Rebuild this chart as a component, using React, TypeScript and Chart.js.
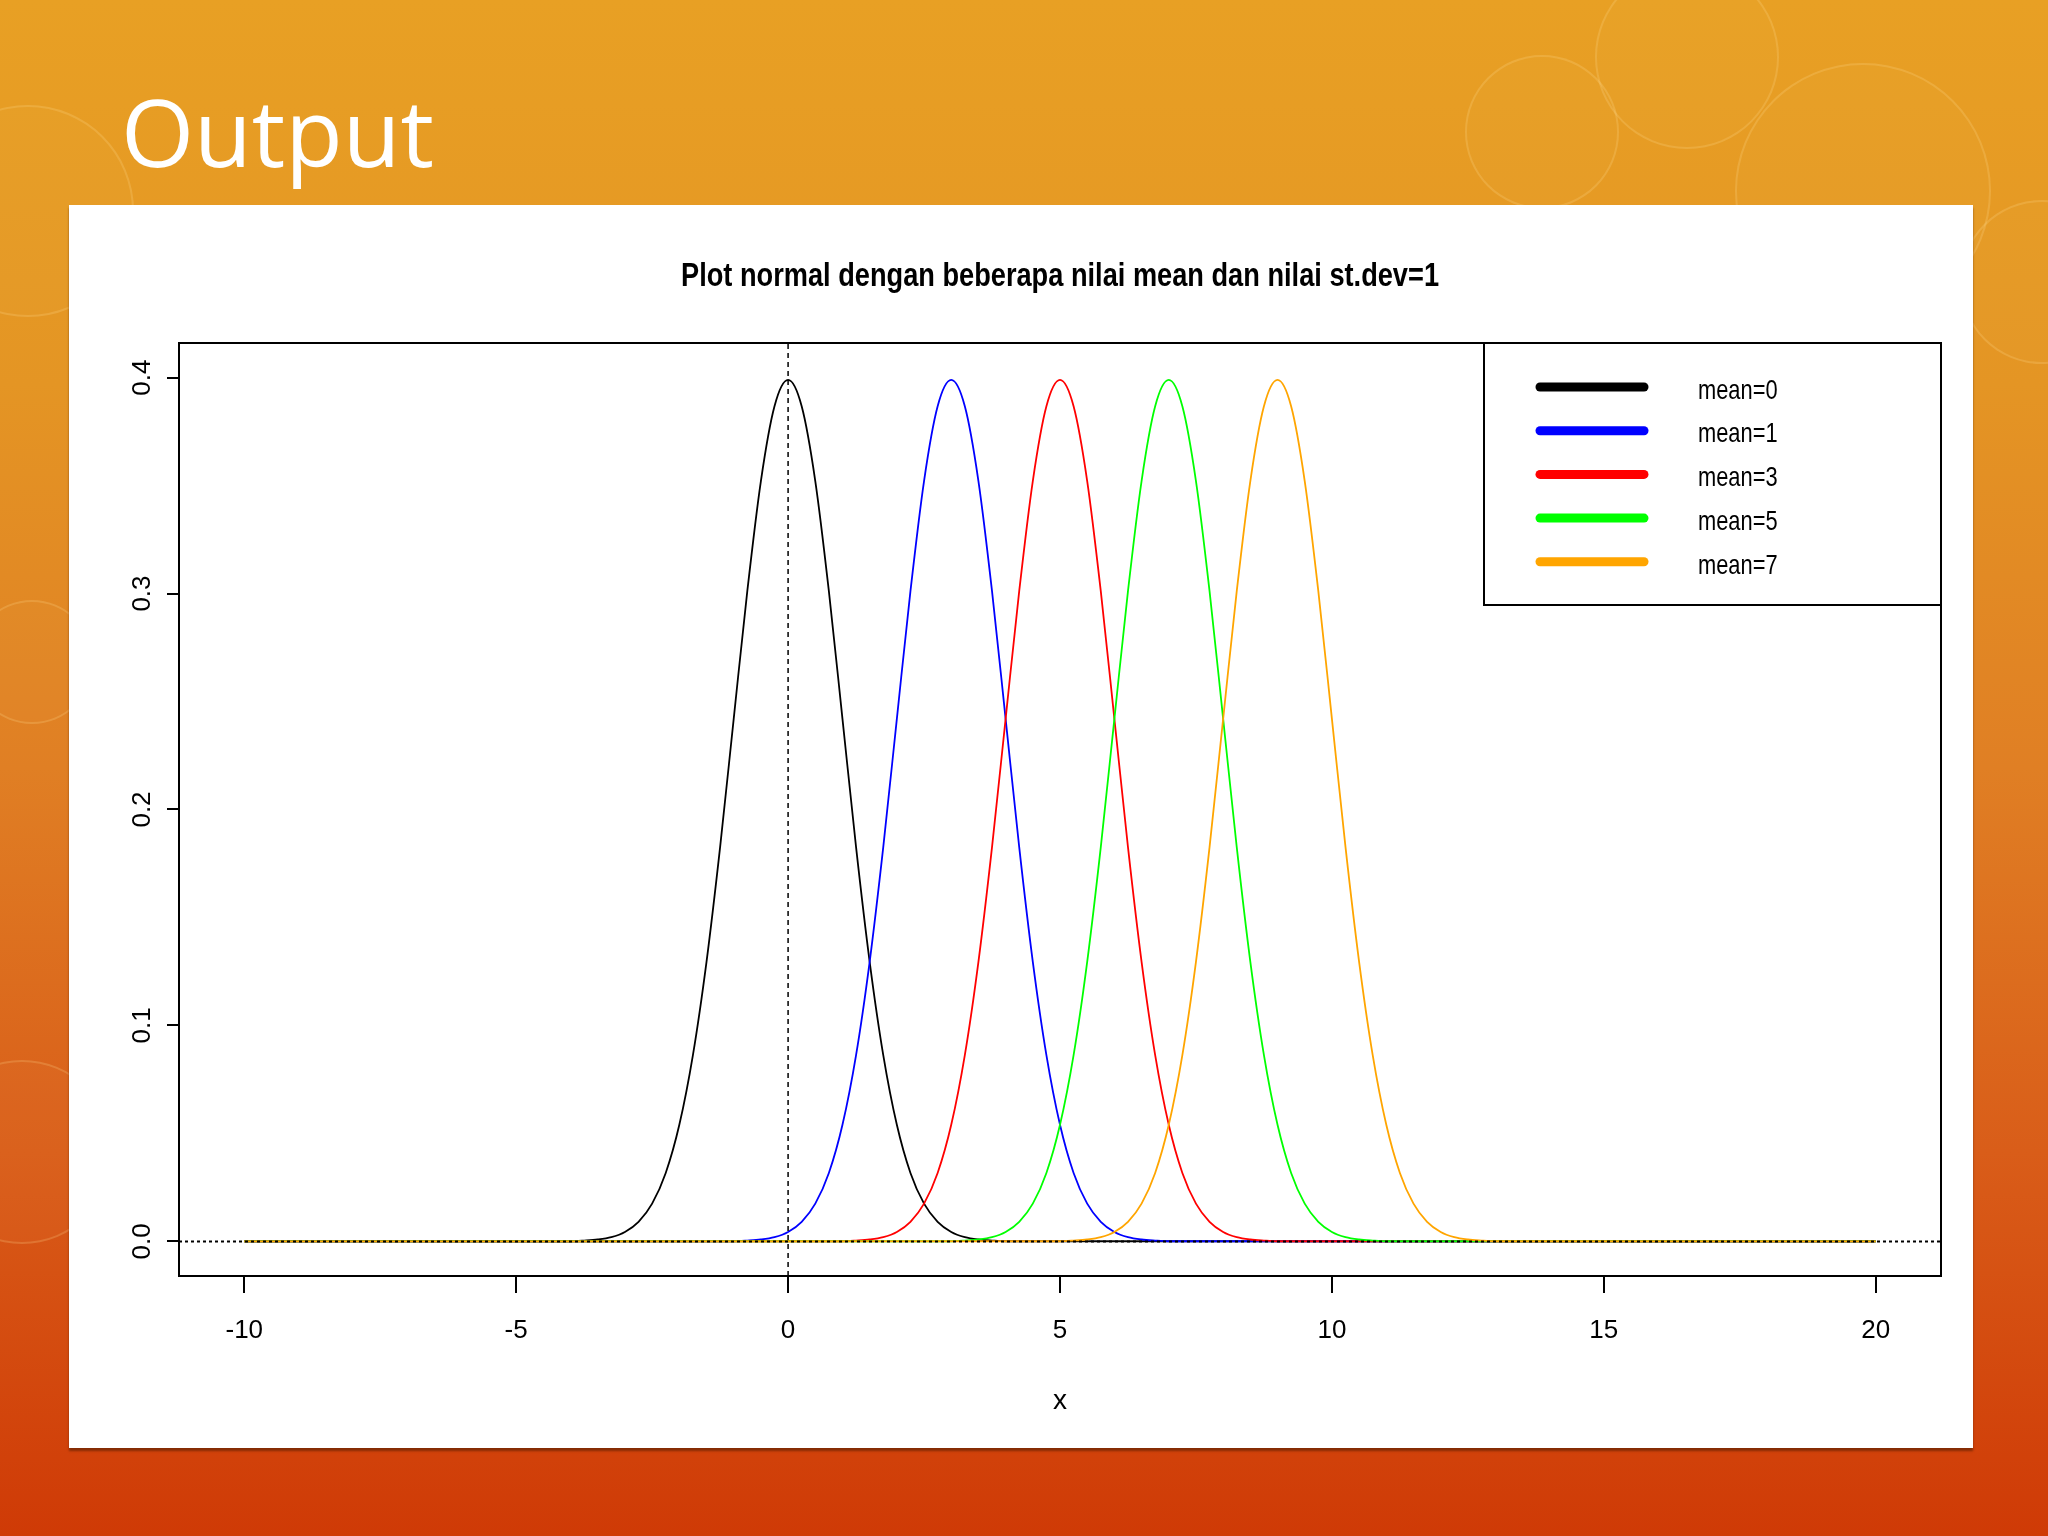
import React, { useEffect, useRef } from 'react'
import { Chart, registerables } from 'chart.js'

Chart.register(...registerables)

const ARIAL = "'Liberation Sans', Arial, sans-serif"

const chartTitle = 'Plot normal dengan beberapa nilai mean dan nilai st.dev=1'
const xAxisLabel = 'x'
const legendLabels = ['mean=0', 'mean=1', 'mean=3', 'mean=5', 'mean=7']
const seriesColors = ['#000000', '#0000FF', '#FF0000', '#00FF00', '#FFA500']
const xTicks = [-10, -5, 0, 5, 10, 15, 20]
const yTicks = [0, 0.1, 0.2, 0.3, 0.4]

// curves (peak ~0.399, st.dev 1), flat at 0 out to -10 and 20
const blackX = [-10, -4, -3.75, -3.5, -3.25, -3, -2.75, -2.5, -2.25, -2, -1.75, -1.5, -1.25, -1, -0.75, -0.5, -0.25, 0, 0.25, 0.5, 0.75, 1, 1.25, 1.5, 1.75, 2, 2.25, 2.5, 2.75, 3, 3.25, 3.5, 3.75, 4, 20]
const blackY = [0, 0.0001, 0.0004, 0.0009, 0.002, 0.0044, 0.0091, 0.0175, 0.0317, 0.054, 0.0863, 0.1295, 0.1826, 0.242, 0.3011, 0.3521, 0.3867, 0.3989, 0.3867, 0.3521, 0.3011, 0.242, 0.1826, 0.1295, 0.0863, 0.054, 0.0317, 0.0175, 0.0091, 0.0044, 0.002, 0.0009, 0.0004, 0.0001, 0]

const blueX = [-10, -1, -0.75, -0.5, -0.25, 0, 0.25, 0.5, 0.75, 1, 1.25, 1.5, 1.75, 2, 2.25, 2.5, 2.75, 3, 3.25, 3.5, 3.75, 4, 4.25, 4.5, 4.75, 5, 5.25, 5.5, 5.75, 6, 6.25, 6.5, 6.75, 7, 20]
const blueY = [0, 0.0001, 0.0004, 0.0009, 0.002, 0.0044, 0.0091, 0.0175, 0.0317, 0.054, 0.0863, 0.1295, 0.1826, 0.242, 0.3011, 0.3521, 0.3867, 0.3989, 0.3867, 0.3521, 0.3011, 0.242, 0.1826, 0.1295, 0.0863, 0.054, 0.0317, 0.0175, 0.0091, 0.0044, 0.002, 0.0009, 0.0004, 0.0001, 0]

const redX = [-10, 1, 1.25, 1.5, 1.75, 2, 2.25, 2.5, 2.75, 3, 3.25, 3.5, 3.75, 4, 4.25, 4.5, 4.75, 5, 5.25, 5.5, 5.75, 6, 6.25, 6.5, 6.75, 7, 7.25, 7.5, 7.75, 8, 8.25, 8.5, 8.75, 9, 20]
const redY = [0, 0.0001, 0.0004, 0.0009, 0.002, 0.0044, 0.0091, 0.0175, 0.0317, 0.054, 0.0863, 0.1295, 0.1826, 0.242, 0.3011, 0.3521, 0.3867, 0.3989, 0.3867, 0.3521, 0.3011, 0.242, 0.1826, 0.1295, 0.0863, 0.054, 0.0317, 0.0175, 0.0091, 0.0044, 0.002, 0.0009, 0.0004, 0.0001, 0]

const greenX = [-10, 3, 3.25, 3.5, 3.75, 4, 4.25, 4.5, 4.75, 5, 5.25, 5.5, 5.75, 6, 6.25, 6.5, 6.75, 7, 7.25, 7.5, 7.75, 8, 8.25, 8.5, 8.75, 9, 9.25, 9.5, 9.75, 10, 10.25, 10.5, 10.75, 11, 20]
const greenY = [0, 0.0001, 0.0004, 0.0009, 0.002, 0.0044, 0.0091, 0.0175, 0.0317, 0.054, 0.0863, 0.1295, 0.1826, 0.242, 0.3011, 0.3521, 0.3867, 0.3989, 0.3867, 0.3521, 0.3011, 0.242, 0.1826, 0.1295, 0.0863, 0.054, 0.0317, 0.0175, 0.0091, 0.0044, 0.002, 0.0009, 0.0004, 0.0001, 0]

const orangeX = [-10, 5, 5.25, 5.5, 5.75, 6, 6.25, 6.5, 6.75, 7, 7.25, 7.5, 7.75, 8, 8.25, 8.5, 8.75, 9, 9.25, 9.5, 9.75, 10, 10.25, 10.5, 10.75, 11, 11.25, 11.5, 11.75, 12, 12.25, 12.5, 12.75, 13, 20]
const orangeY = [0, 0.0001, 0.0004, 0.0009, 0.002, 0.0044, 0.0091, 0.0175, 0.0317, 0.054, 0.0863, 0.1295, 0.1826, 0.242, 0.3011, 0.3521, 0.3867, 0.3989, 0.3867, 0.3521, 0.3011, 0.242, 0.1826, 0.1295, 0.0863, 0.054, 0.0317, 0.0175, 0.0091, 0.0044, 0.002, 0.0009, 0.0004, 0.0001, 0]

const xMin = -11.2
const xMax = 21.2
const yMin = -0.016
const yMax = 0.416

const zip = (xs: number[], ys: number[]) => xs.map((x, i) => ({ x, y: ys[i] }))

// R's narrow-looking text: Arial squeezed horizontally
const drawNarrowText = (ctx: CanvasRenderingContext2D, text: string, x: number, y: number, squeeze: number) => {
  ctx.save()
  ctx.translate(x, y)
  ctx.scale(squeeze, 1)
  ctx.fillText(text, 0, 0)
  ctx.restore()
}

const framePlugin = {
  id: 'framePlugin',
  afterDatasetsDraw(chart: any) {
    const { ctx, chartArea } = chart
    ctx.save()
    ctx.strokeStyle = '#000'
    ctx.lineWidth = 2
    ctx.strokeRect(chartArea.left, chartArea.top, chartArea.right - chartArea.left, chartArea.bottom - chartArea.top)

    // title centred over the plot region
    ctx.fillStyle = '#000'
    ctx.font = `bold 34px ${ARIAL}`
    ctx.textAlign = 'center'
    ctx.textBaseline = 'alphabetic'
    drawNarrowText(ctx, chartTitle, (chartArea.left + chartArea.right) / 2, 81, 0.8)

    // legend box in the top-right corner
    const boxW = 457
    const boxH = 262
    const bx = chartArea.right - boxW
    const by = chartArea.top
    ctx.fillStyle = '#fff'
    ctx.fillRect(bx, by, boxW, boxH)
    ctx.strokeRect(bx, by, boxW, boxH)

    ctx.lineCap = 'round'
    ctx.lineWidth = 9
    ctx.font = `28px ${ARIAL}`
    ctx.textBaseline = 'middle'
    ctx.textAlign = 'left'
    legendLabels.forEach((label, i) => {
      const ly = by + 44 + i * 43.7
      ctx.strokeStyle = seriesColors[i]
      ctx.beginPath()
      ctx.moveTo(bx + 56, ly)
      ctx.lineTo(bx + 160, ly)
      ctx.stroke()
      ctx.fillStyle = '#000'
      drawNarrowText(ctx, label, bx + 214, ly + 4, 0.78)
    })
    ctx.restore()
  },
}

const NormalChart = () => {
  const chartRef = useRef<HTMLCanvasElement>(null)

  useEffect(() => {
    if (!chartRef.current) return
    const ctx = chartRef.current.getContext('2d')
    if (!ctx) return

    const curves = [
      zip(orangeX, orangeY),
      zip(greenX, greenY),
      zip(redX, redY),
      zip(blueX, blueY),
      zip(blackX, blackY),
    ]
    const curveColors = [seriesColors[4], seriesColors[3], seriesColors[2], seriesColors[1], seriesColors[0]]

    const chart = new Chart(ctx, {
      type: 'line',
      data: {
        datasets: [
          {
            data: [{ x: xMin, y: 0 }, { x: xMax, y: 0 }],
            borderColor: '#000',
            borderWidth: 2,
            borderDash: [3, 3],
            pointRadius: 0,
          },
          {
            data: [{ x: 0, y: yMin }, { x: 0, y: yMax }],
            borderColor: '#000',
            borderWidth: 1.5,
            borderDash: [5, 4],
            pointRadius: 0,
          },
          ...curves.map((d, i) => ({
            data: d,
            borderColor: curveColors[i],
            borderWidth: 1.8,
            pointRadius: 0,
            cubicInterpolationMode: 'monotone' as const,
          })),
        ],
      },
      options: {
        animation: false,
        responsive: true,
        maintainAspectRatio: false,
        layout: { padding: { left: 0, right: 32, top: 138, bottom: 0 } },
        plugins: {
          legend: { display: false },
          tooltip: { enabled: false },
          title: { display: false },
        },
        scales: {
          x: {
            type: 'linear',
            min: xMin,
            max: xMax,
            afterBuildTicks: (s: any) => {
              s.ticks = xTicks.map((v) => ({ value: v }))
            },
            afterFit: (s: any) => {
              s.height = 172
            },
            grid: { drawOnChartArea: false, drawTicks: true, tickLength: 17, color: '#000', lineWidth: 2 },
            border: { display: false },
            ticks: {
              padding: 22,
              color: '#000',
              autoSkip: false,
              maxRotation: 0,
              font: { family: ARIAL, size: 26 },
              callback: (v: any) => String(v),
            },
            title: {
              display: true,
              text: xAxisLabel,
              color: '#000',
              font: { family: ARIAL, size: 28 },
              padding: { top: 0, bottom: 30 },
            },
          },
          y: {
            type: 'linear',
            min: yMin,
            max: yMax,
            afterBuildTicks: (s: any) => {
              s.ticks = yTicks.map((v) => ({ value: v }))
            },
            afterFit: (s: any) => {
              s.width = 110
            },
            grid: { drawOnChartArea: false, drawTicks: true, tickLength: 12, color: '#000', lineWidth: 2 },
            border: { display: false },
            ticks: {
              padding: 6,
              color: '#000',
              autoSkip: false,
              minRotation: 90,
              maxRotation: 90,
              crossAlign: 'center',
              font: { family: ARIAL, size: 26 },
              callback: (v: any) => Number(v).toFixed(1),
            },
          },
        },
      },
      plugins: [framePlugin],
    })

    return () => {
      chart.destroy()
    }
  }, [])

  return <canvas ref={chartRef} />
}

const circles = [
  { x: 26, y: 209, r: 104 },
  { x: 1861, y: 189, r: 126 },
  { x: 1685, y: 55, r: 90 },
  { x: 1540, y: 130, r: 75 },
  { x: 2040, y: 280, r: 80 },
  { x: 20, y: 1150, r: 90 },
  { x: 30, y: 660, r: 60 },
]

export default function App() {
  return (
    <div
      style={{
        position: 'fixed',
        left: 0,
        top: 0,
        width: 2048,
        height: 1536,
        overflow: 'hidden',
        background: 'linear-gradient(180deg, #E8A024 0%, #E49524 25%, #E07F24 50%, #D95D19 75%, #CF3A06 100%)',
      }}
    >
      {circles.map((c, i) => (
        <div
          key={i}
          style={{
            position: 'absolute',
            left: c.x - c.r,
            top: c.y - c.r,
            width: c.r * 2,
            height: c.r * 2,
            borderRadius: '50%',
            border: '2px solid rgba(255, 225, 150, 0.2)',
            background: 'rgba(255, 230, 160, 0.03)',
          }}
        />
      ))}
      <div
        style={{
          position: 'absolute',
          left: 121,
          top: 84,
          fontFamily: "'Open Sans', 'DejaVu Sans', sans-serif",
          fontSize: 94,
          lineHeight: '94px',
          color: '#fff',
          whiteSpace: 'nowrap',
        }}
      >
        Output
      </div>
      <div
        style={{
          position: 'absolute',
          left: 69,
          top: 205,
          width: 1904,
          height: 1243,
          background: '#fff',
          boxShadow: '0 3px 2px rgba(70, 25, 0, 0.55)',
        }}
      >
        <div style={{ position: 'relative', width: 1904, height: 1243 }}>
          <NormalChart />
        </div>
      </div>
    </div>
  )
}
